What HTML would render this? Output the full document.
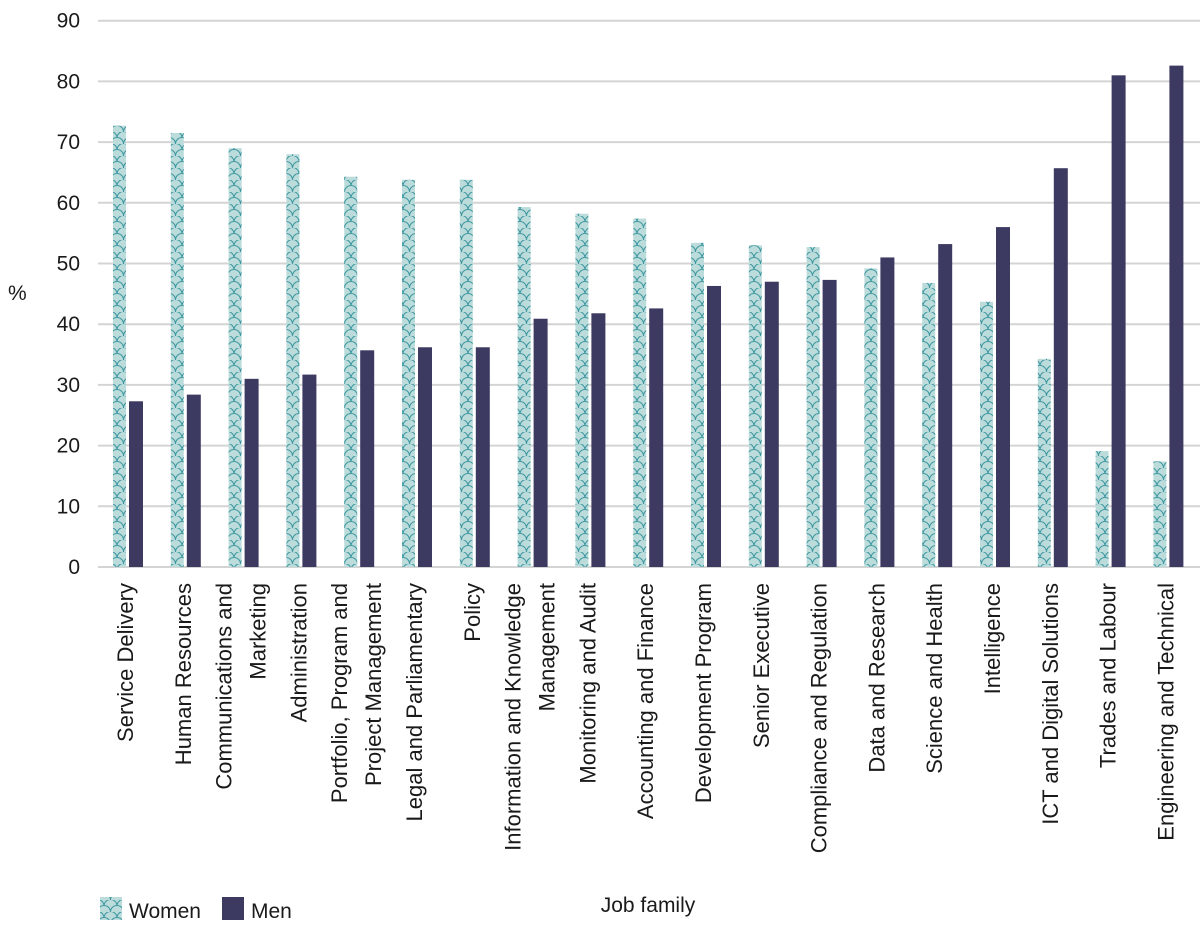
<!DOCTYPE html>
<html><head><meta charset="utf-8"><style>
body{margin:0;background:#fff}
svg text{font-family:"Liberation Sans Narrow","Liberation Sans",sans-serif;fill:#1a1a1a}
</style></head><body>
<svg width="1200" height="925" viewBox="0 0 1200 925" xmlns="http://www.w3.org/2000/svg">
<defs>
<pattern id="sc" width="13" height="12" patternUnits="userSpaceOnUse">
<rect width="13" height="12" fill="#bcdcdc"/>
<path d="M-6.5,12 A6.5,6.5 0 0 1 6.5,12 M6.5,12 A6.5,6.5 0 0 1 19.5,12 M0,6 A6.5,6.5 0 0 1 13,6" fill="none" stroke="#3f98a0" stroke-width="1.1"/>
</pattern>
</defs>
<g id="grid" stroke="#d4d4d4" stroke-width="2"></g>
<g id="bars"></g>
<g id="ticks" font-size="21" text-anchor="end"></g>
<g id="labels" font-size="22"></g>
<text x="8" y="300" font-size="21">%</text>
<text x="648" y="912" font-size="21" text-anchor="middle">Job family</text>
<rect x="100" y="897" width="22" height="23" fill="url(#sc)"/>
<text x="129" y="918" font-size="21">Women</text>
<rect x="222" y="897" width="22" height="23" fill="#3d3a62"/>
<text x="251" y="918" font-size="21">Men</text>
<script>
const ns="http://www.w3.org/2000/svg";
function el(p,t,a,txt){const e=document.createElementNS(ns,t);for(const k in a)e.setAttribute(k,a[k]);if(txt!==undefined)e.textContent=txt;document.getElementById(p).appendChild(e);return e;}
const y0=567,ppu=6.07;
for(let v=0;v<=90;v+=10){const y=y0-v*ppu;el('grid','line',{x1:98,x2:1200,y1:y,y2:y});el('ticks','text',{x:80,y:y+7},v);}
const W=[72.7,71.5,69,68,64.3,63.8,63.8,59.3,58.2,57.4,53.4,53,52.7,49.2,46.8,43.7,34.3,19.1,17.4];
const M=[27.3,28.4,31,31.7,35.7,36.2,36.2,40.9,41.8,42.6,46.3,47,47.3,51,53.2,56,65.7,81,82.6];
const L=[["Service Delivery"],["Human Resources"],["Communications and","Marketing"],["Administration"],["Portfolio, Program and","Project Management"],["Legal and Parliamentary"],["Policy"],["Information and Knowledge","Management"],["Monitoring and Audit"],["Accounting and Finance"],["Development Program"],["Senior Executive"],["Compliance and Regulation"],["Data and Research"],["Science and Health"],["Intelligence"],["ICT and Digital Solutions"],["Trades and Labour"],["Engineering and Technical"]];
for(let i=0;i<19;i++){
 const x=113+i*57.8;
 el('bars','rect',{x:x,y:y0-W[i]*ppu,width:13,height:W[i]*ppu,fill:"url(#sc)"});
 el('bars','rect',{x:x+16,y:y0-M[i]*ppu,width:14,height:M[i]*ppu,fill:"#3d3a62"});
 const c=x+15, n=L[i].length;
 L[i].forEach((s,j)=>{
  const off=(j-(n-1)/2)*34+5;
  el('labels','text',{x:0,y:0,'text-anchor':'end',transform:`translate(${c+off},${583}) rotate(-90)`},s);
 });
}
</script>
</svg>
</body></html>
